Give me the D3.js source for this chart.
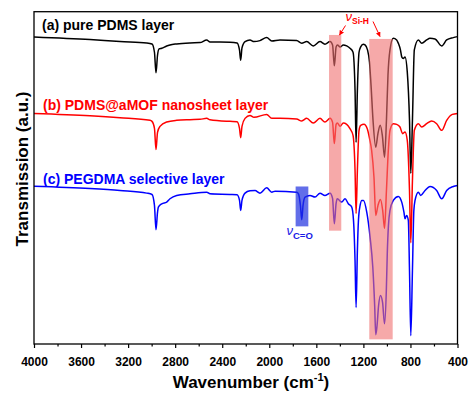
<!DOCTYPE html>
<html><head><meta charset="utf-8">
<script src="https://cdn.jsdelivr.net/npm/d3@7"></script>
<style>
body{margin:0;background:#fff;}
svg{display:block;font-family:"Liberation Sans",Arial,Helvetica,sans-serif;}
</style>
</head><body>
<svg id="chart" width="474" height="395"></svg>
<script>
// ---------- data ----------
const xTicks = [4000,3600,3200,2800,2400,2000,1600,1200,800,400];
const xMinorTicks = [3800,3400,3000,2600,2200,1800,1400,1000,600];
const seriesNames = ["(a) pure PDMS layer","(b) PDMS@aMOF nanosheet layer","(c) PEGDMA selective layer"];

const blackWn = [4000,3524,3269,3042,2997,2976,2963,2950,2937,2914,2872,2844,2787,2674,2589,2532,2504,2334,2274,2253,2243,2232,2206,2164,2130,2079,2022,1979,1909,1767,1724,1682,1626,1569,1527,1483,1462,1447,1432,1420,1398,1371,1342,1314,1288,1271,1262,1251,1237,1223,1201,1186,1165,1148,1135,1118,1095,1076,1057,1039,1020,1004,991,974,946,917,903,885,874,861,846,827,808,797,783,767,733,704,662,634,591,534,492,436,400];
const blackT  = [92.4,91.6,91.0,90.6,90.3,87.8,81.6,86.9,88.8,89.0,89.7,90.0,90.3,90.6,90.7,91.5,90.9,90.8,90.6,88.4,85.4,89.1,91.0,91.5,91.0,91.3,92.2,91.2,91.5,91.3,90.5,91.0,89.7,91.0,90.2,91.0,90.0,83.7,89.4,90.0,89.4,90.0,89.7,89.0,87.8,76.4,60.7,76.4,87.8,89.4,90.2,90.0,88.5,84.8,77.9,67.3,59.2,63.4,65.8,62.8,56.2,67.3,80.9,88.5,92.0,91.5,90.5,88.5,86.4,85.9,86.4,81.9,67.3,51.4,67.3,88.5,91.5,90.5,91.5,92.0,91.8,89.7,91.5,92.2,92.5];

const redWn = [4000,3524,3269,3014,2997,2976,2963,2950,2929,2872,2787,2674,2589,2532,2504,2334,2274,2253,2243,2232,2206,2164,2130,2022,1979,1909,1767,1724,1682,1626,1569,1527,1483,1462,1447,1432,1422,1398,1371,1342,1314,1288,1271,1262,1251,1237,1223,1195,1167,1148,1130,1110,1095,1076,1055,1036,1020,1004,988,974,946,917,889,866,846,827,808,797,783,767,733,704,662,620,577,534,492,444,400];
const redT  = [69.4,68.7,68.1,67.3,67.0,64.9,58.5,63.7,65.5,66.8,67.3,67.5,67.6,67.9,67.5,67.0,66.9,64.9,62.1,65.5,67.9,68.8,68.2,69.1,67.9,67.9,67.7,67.1,67.9,66.5,67.9,66.8,67.9,66.7,60.3,66.1,66.5,65.5,66.5,66.1,64.8,62.8,52.3,39.3,52.3,64.3,65.8,66.1,64.8,61.9,58.3,50.2,38.7,41.7,43.5,40.2,34.8,46.2,58.3,64.3,66.3,66.1,65.3,63.3,63.8,61.3,46.2,30.5,49.2,64.3,66.3,65.3,66.3,67.1,66.3,64.3,67.3,69.1,69.4];

const blueWn = [4000,3524,3269,3042,2997,2976,2963,2950,2943,2914,2872,2844,2787,2674,2532,2504,2334,2274,2253,2243,2232,2206,2164,2121,2079,2022,1979,1951,1767,1752,1735,1724,1713,1696,1654,1611,1569,1527,1483,1462,1447,1432,1422,1384,1356,1328,1299,1284,1271,1262,1251,1242,1228,1213,1199,1171,1143,1120,1104,1095,1084,1071,1055,1037,1020,1005,997,987,974,946,903,874,855,846,832,818,808,797,783,771,761,733,713,676,634,577,534,492,436,400];
const blueT  = [47.5,46.8,46.2,45.4,45.0,41.7,34.4,39.6,41.2,42.2,42.7,43.7,44.7,45.2,45.7,45.2,45.0,44.9,43.2,40.2,43.2,45.4,46.1,46.2,45.4,47.0,45.7,46.0,45.7,45.2,41.7,37.4,41.7,44.2,44.7,44.2,45.4,44.7,45.4,43.8,36.2,42.3,43.7,42.7,43.7,42.2,41.2,37.2,25.1,11.0,28.1,37.2,41.7,43.2,43.2,39.6,32.1,23.1,11.5,2.8,5.5,11.5,14.6,12.5,6.1,16.1,27.2,35.7,40.2,43.2,44.4,42.7,39.6,37.7,38.7,37.2,22.1,2.5,22.1,40.2,43.2,45.7,44.7,46.2,47.4,46.2,43.7,46.2,47.4,47.7];

// highlighted bands: [wnStart, wnEnd, tLow, tHigh]
const siHBands = [[1492,1388,34.1,93.0],[1150,951,1.4,91.8]];
const coBand = [1776,1668,35.4,47.4];

// ---------- layout ----------
const L = 34, R = 457.5, T = 11.7, B = 344;
const svg = d3.select("#chart");

const x = d3.scaleLinear().domain([4000,400]).range([L,R]);
const y = d3.scaleLinear().domain([0,100]).range([B,T]);

const line = d3.line().x(d=>x(d[0])).y(d=>y(d[1])).curve(d3.curveMonotoneX);
const zip = (a,b)=>a.map((v,i)=>[v,b[i]]);

const traces = [
  {wn: blueWn, t: blueT, color: "#0000ff"},
  {wn: redWn, t: redT, color: "#ff0000"},
  {wn: blackWn, t: blackT, color: "#000000"}
];
svg.append("g").selectAll("path").data(traces).join("path")
  .attr("d", d=>line(zip(d.wn,d.t)))
  .attr("fill","none").attr("stroke",d=>d.color)
  .attr("stroke-width",1.5).attr("stroke-linejoin","round");

svg.append("g").selectAll("rect").data(siHBands).join("rect")
  .attr("x", d=>x(d[0])).attr("width", d=>x(d[1])-x(d[0]))
  .attr("y", d=>y(d[3])).attr("height", d=>y(d[2])-y(d[3]))
  .attr("fill","#f07070").attr("fill-opacity",0.6);
svg.append("rect")
  .attr("x", x(coBand[0])).attr("width", x(coBand[1])-x(coBand[0]))
  .attr("y", y(coBand[3])).attr("height", y(coBand[2])-y(coBand[3]))
  .attr("fill","#2030e0").attr("fill-opacity",0.7);

svg.append("rect").attr("x",L).attr("y",T).attr("width",R-L).attr("height",B-T)
  .attr("fill","none").attr("stroke","#000").attr("stroke-width",1.3);

const gx = svg.append("g").attr("transform",`translate(0,${B})`)
  .call(d3.axisBottom(x).tickValues(xTicks).tickSize(4).tickSizeOuter(0).tickPadding(9).tickFormat(d3.format("d")));
gx.select(".domain").remove();
gx.selectAll("line").attr("stroke-width",1.2);
gx.selectAll("text").attr("font-size",12).attr("font-weight","bold").attr("fill","#000")
  .attr("font-family",'"Liberation Sans",Arial,sans-serif');
const gxm = svg.append("g").attr("transform",`translate(0,${B})`)
  .call(d3.axisBottom(x).tickValues(xMinorTicks).tickSize(2.5).tickFormat(""));
gxm.select(".domain").remove();
gxm.selectAll("line").attr("stroke-width",1.2);

const xt = svg.append("text").attr("x",251).attr("y",388).attr("text-anchor","middle")
  .attr("font-size",17).attr("font-weight","bold").attr("fill","#000");
xt.append("tspan").text("Wavenumber (cm");
xt.append("tspan").text("-1").attr("font-size",11).attr("dy",-7);
xt.append("tspan").text(")").attr("dy",7);

svg.append("text").attr("transform",`translate(27.5,169) rotate(-90)`)
  .attr("text-anchor","middle").attr("font-size",17).attr("font-weight","bold")
  .attr("fill","#000").text("Transmission (a.u.)");

const labelPos = [[42,30],[43,109.5],[43,184]];
const labelColors = ["#000000","#ff0000","#0000ff"];
svg.append("g").selectAll("text").data(seriesNames).join("text")
  .attr("x",(d,i)=>labelPos[i][0]).attr("y",(d,i)=>labelPos[i][1])
  .attr("font-size",14).attr("font-weight","bold")
  .attr("fill",(d,i)=>labelColors[i]).text(d=>d);

svg.append("defs").html(`
<marker id="ar" viewBox="0 0 10 10" refX="9" refY="5" markerWidth="5" markerHeight="5" orient="auto-start-reverse">
<path d="M0,0 L10,5 L0,10 z" fill="#ff0000"/></marker>`);

const siH = svg.append("text").attr("x",345.5).attr("y",21).attr("fill","#ff0000");
siH.append("tspan").text("ν").attr("font-size",13).attr("font-style","italic");
siH.append("tspan").text("Si-H").attr("font-size",8.5).attr("font-weight","bold").attr("dy",3);

svg.append("line").attr("x1",345.5).attr("y1",25.5).attr("x2",339.5).attr("y2",35)
  .attr("stroke","#ff0000").attr("stroke-width",1).attr("marker-end","url(#ar)");
svg.append("line").attr("x1",373).attr("y1",21.5).attr("x2",380).attr("y2",36.5)
  .attr("stroke","#ff0000").attr("stroke-width",1).attr("marker-end","url(#ar)");

const co = svg.append("text").attr("x",286.5).attr("y",235).attr("fill","#1a1ae6");
co.append("tspan").text("ν").attr("font-size",13).attr("font-style","italic");
co.append("tspan").text("C=O").attr("font-size",9.5).attr("font-weight","bold").attr("dy",3.5);
</script>
</body></html>
